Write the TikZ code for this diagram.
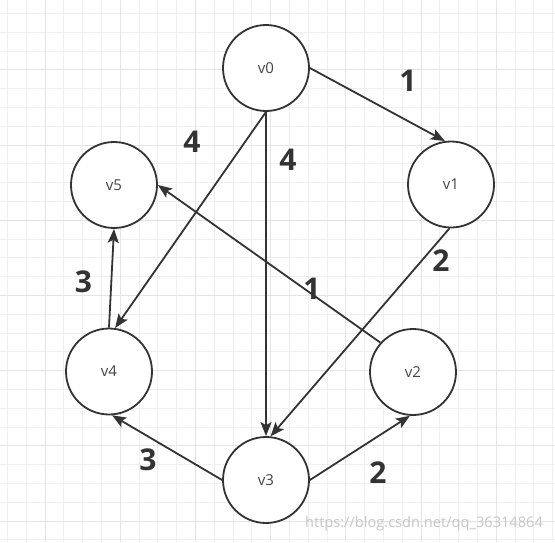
\documentclass[tikz,border=0pt]{standalone}
\usepackage{fontspec}
\setmainfont{Open Sans}
\usetikzlibrary{arrows.meta}
\definecolor{linec}{HTML}{333333}
\definecolor{txtc}{HTML}{444444}
\definecolor{gridminor}{HTML}{EFEFEF}
\definecolor{gridmajor}{HTML}{E4E4E4}
\tikzset{
  vert/.style={circle, draw=linec, line width=1.8pt, minimum size=86pt, inner sep=0pt, fill=white,
    font=\fontsize{15}{15}\selectfont, text=txtc},
  ed/.style={draw=linec, line width=1.8pt, -{Stealth[length=14pt,width=11pt,inset=3pt]}},
  wlab/.style={font=\fontsize{30}{30}\selectfont\bfseries, text=linec, inner sep=0pt},
  gmin/.style={draw=gridminor, line width=0.9pt},
  gmaj/.style={draw=gridmajor, line width=1pt}
}
\begin{document}
\begin{tikzpicture}[x=1pt,y=-1pt]
\useasboundingbox (0,0) rectangle (555,542);
\fill[white] (0,0) rectangle (555,542);
% grid
\foreach \i in {0,...,29} {
  \pgfmathsetmacro\gx{7.4+18.8*\i}
  \draw[gmin] (\gx,0) -- (\gx,542);
}
\foreach \i in {0,...,28} {
  \pgfmathsetmacro\gy{13.5+18.8*\i}
  \draw[gmin] (0,\gy) -- (555,\gy);
}
\foreach \i in {0,...,6} {
  \pgfmathsetmacro\gx{45+75.2*\i}
  \draw[gmaj] (\gx,0) -- (\gx,542);
}
\foreach \i in {0,...,6} {
  \pgfmathsetmacro\gy{69.9+75.2*\i}
  \draw[gmaj] (0,\gy) -- (555,\gy);
}
% vertices
\node[vert] (v0) at (266,68) {v0};
\node[vert] (v1) at (451,184.5) {v1};
\node[vert] (v2) at (413,372) {v2};
\node[vert] (v3) at (266,480) {v3};
\node[vert] (v4) at (109,371.5) {v4};
\node[vert] (v5) at (114,185) {v5};
% edges
\draw[ed] (v0.east) -- (v1.98);
\draw[ed] (v0.south) -- (v4.82);
\draw[ed] (v0.south) -- (v3.north);
\draw[ed] (v1.268) -- (v3.84);
\draw[ed] (v2.138) -- (v5.east);
\draw[ed] (v4.north) -- (v5.south);
\draw[ed] (v3.west) -- (v4.274);
\draw[ed] (v3.east) -- (v2.266);
% weights
\node[wlab] (w01) at (408,81) {1};
\node[wlab] (w04) at (192,142) {4};
\node[wlab] (w03) at (288,160) {4};
\node[wlab] (w13) at (441,261) {2};
\node[wlab] (w25) at (312,289) {1};
\node[wlab] (w45) at (83.5,281.5) {3};
\node[wlab] (w34) at (148,460) {3};
\node[wlab] (w32) at (378,472.5) {2};
% watermark
\node[font=\fontsize{14.6}{14.6}\selectfont, text=gray!45, inner sep=0pt] (wm) at (424,524) {https://blog.csdn.net/qq\_36314864};
\end{tikzpicture}
\end{document}
